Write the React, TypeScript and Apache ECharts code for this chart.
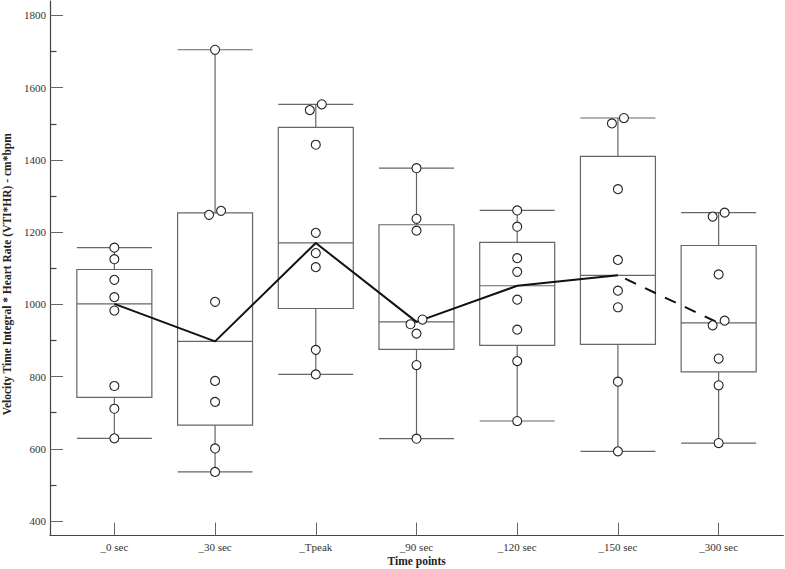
import React, { useEffect, useRef } from "react";
import * as echarts from "echarts";

const categories = ["_0 sec", "_30 sec", "_Tpeak", "_90 sec", "_120 sec", "_150 sec", "_300 sec"];
const sec0 = [1157, 1125, 1068, 1020, 983, 774, 711, 629];
const sec30 = [1705, 1259, 1248, 1007, 788, 730, 601, 536];
const tpeak = [1554, 1538, 1442, 1198, 1142, 1103, 874, 806];
const sec90 = [1377, 1237, 1204, 958, 945, 919, 832, 628];
const sec120 = [1260, 1215, 1128, 1090, 1013, 930, 843, 677];
const sec150 = [1516, 1501, 1319, 1123, 1038, 992, 786, 593];
const sec300 = [1254, 1243, 1083, 955, 942, 850, 776, 616];
const groups = [sec0, sec30, tpeak, sec90, sec120, sec150, sec300];
const majorTicks = [400, 600, 800, 1000, 1200, 1400, 1600, 1800];
const minorTicks = [500, 700, 900, 1100, 1300, 1500, 1700];

const med = (a: number[]) => {
  const n = a.length;
  return n % 2 ? a[(n - 1) / 2] : (a[n / 2 - 1] + a[n / 2]) / 2;
};
const fiveNum = (vals: number[]) => {
  const s = [...vals].sort((x, y) => x - y);
  const n = s.length;
  const half = Math.floor(n / 2);
  const lower = s.slice(0, half);
  const upper = s.slice(n % 2 ? half + 1 : half);
  return [s[0], med(lower), med(s), med(upper), s[n - 1]];
};

const SERIF = "'Liberation Serif', 'Times New Roman', serif";

export default function App() {
  const ref = useRef<HTMLDivElement>(null);
  useEffect(() => {
    if (!ref.current) return;
    const chart = echarts.init(ref.current, undefined, { renderer: "svg" });
    const boxes = groups.map(fiveNum);
    const medians = boxes.map((b) => b[2]);
    const solid = medians.map((m, i) => (i < medians.length - 1 ? m : null));
    const dashed = medians.map((m, i) => (i >= medians.length - 2 ? m : null));
    const scatter: any[] = [];
    groups.forEach((g, i) => {
      const s = [...g].sort((a, b) => b - a);
      s.forEach((v, j) => {
        let dx = 0;
        if (j > 0 && s[j - 1] - v < 20) dx = -6;
        else if (j < s.length - 1 && v - s[j + 1] < 20) dx = 6;
        scatter.push({ value: [i, v], symbolOffset: [dx, 0] });
      });
    });
    const axisColor = "#444";
    chart.setOption({
      animation: false,
      grid: [
        { left: 50, top: 1, width: 733.3, height: 534.5, outerBoundsMode: "none", containLabel: false },
        { left: 64, top: 1, width: 705, height: 534.5, outerBoundsMode: "none", containLabel: false },
      ],
      xAxis: [
        {
          gridIndex: 0,
          type: "value",
          min: 0,
          max: 1,
          axisLine: { show: true, lineStyle: { color: axisColor, width: 1.2 } },
          axisTick: { show: false },
          axisLabel: { show: false },
          splitLine: { show: false },
          name: "Time points",
          nameLocation: "middle",
          nameGap: 19,
          nameTextStyle: { fontFamily: SERIF, fontWeight: "bold", fontSize: 11.5, color: "#222" },
        },
        {
          gridIndex: 1,
          type: "category",
          data: categories,
          axisLine: { show: false },
          axisTick: { show: true, inside: true, length: 13, alignWithLabel: true, lineStyle: { color: "#666", width: 1 } },
          axisLabel: { fontFamily: SERIF, fontSize: 11, color: "#333", margin: 6 },
          splitLine: { show: false },
        },
      ],
      yAxis: [
        {
          gridIndex: 0,
          type: "value",
          min: 360,
          max: 1840,
          position: "left",
          axisLine: { show: true, lineStyle: { color: axisColor, width: 1.2 } },
          axisTick: { show: true, inside: true, length: 13, customValues: majorTicks, lineStyle: { color: "#666", width: 1 } },
          axisLabel: {
            show: true,
            customValues: majorTicks,
            formatter: (v: number) => String(v),
            fontFamily: SERIF,
            fontSize: 11,
            color: "#333",
            margin: 4,
          },
          splitLine: { show: false },
          name: "Velocity Time Integral * Heart Rate (VTI*HR) - cm*bpm",
          nameLocation: "middle",
          nameGap: 37,
          nameTextStyle: { fontFamily: SERIF, fontWeight: "bold", fontSize: 11.5, color: "#222", padding: [0, 12, 0, 0] },
        },
        {
          gridIndex: 0,
          type: "value",
          min: 360,
          max: 1840,
          position: "left",
          axisLine: { show: false },
          axisTick: { show: true, inside: true, length: 6.5, customValues: minorTicks, lineStyle: { color: "#444", width: 1.2 } },
          axisLabel: { show: false },
          splitLine: { show: false },
        },
        {
          gridIndex: 1,
          type: "value",
          min: 360,
          max: 1840,
          show: false,
          splitLine: { show: false },
        },
      ],
      series: [
        {
          type: "boxplot",
          xAxisIndex: 1,
          yAxisIndex: 2,
          data: boxes,
          boxWidth: [75, 75],
          itemStyle: { color: "#fff", borderColor: "#666", borderWidth: 1.2 },
          emphasis: { disabled: true },
          z: 2,
        },
        {
          type: "line",
          xAxisIndex: 1,
          yAxisIndex: 2,
          data: solid,
          symbol: "none",
          lineStyle: { color: "#111", width: 2 },
          z: 3,
        },
        {
          type: "line",
          xAxisIndex: 1,
          yAxisIndex: 2,
          data: dashed,
          symbol: "none",
          lineStyle: { color: "#111", width: 2, type: [12, 10], dashOffset: -8 },
          z: 3,
        },
        {
          type: "scatter",
          xAxisIndex: 1,
          yAxisIndex: 2,
          data: scatter,
          symbol: "circle",
          symbolSize: 9,
          itemStyle: { color: "#fff", borderColor: "#222", borderWidth: 1.1, opacity: 1 },
          emphasis: { disabled: true },
          z: 4,
        },
      ],
    });
    return () => chart.dispose();
  }, []);
  return <div ref={ref} style={{ position: "absolute", left: 0, top: 0, width: 785, height: 569 }} />;
}
